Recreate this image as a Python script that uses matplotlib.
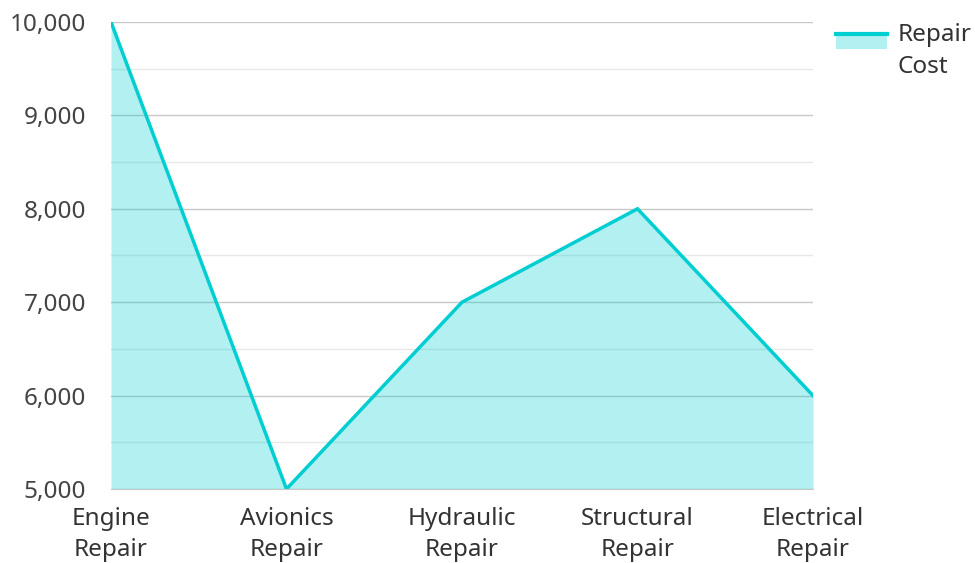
import numpy as np
import matplotlib.pyplot as plt
from matplotlib.ticker import FuncFormatter, MultipleLocator
from matplotlib.lines import Line2D
from matplotlib.patches import Rectangle
from matplotlib.legend_handler import HandlerBase

plt.rcParams['font.family'] = ['Noto Sans', 'DejaVu Sans']

categories = ['Engine\nRepair', 'Avionics\nRepair', 'Hydraulic\nRepair',
              'Structural\nRepair', 'Electrical\nRepair']
repair_cost = [10000, 5000, 7000, 8000, 6000]

line_color = '#00CED1'


class AreaHandler(HandlerBase):
    # filled box with the line along its top edge, lifted to sit beside the first text line
    def create_artists(self, legend, orig_handle, xdescent, ydescent,
                       width, height, fontsize, trans):
        lift = fontsize * 0.42
        top = height * 0.95 + lift
        bottom = height * 0.05 + lift
        box = Rectangle((-xdescent, bottom - ydescent), width, top - bottom,
                        facecolor=line_color, alpha=0.3, edgecolor='none', transform=trans)
        ln = Line2D([-xdescent, -xdescent + width], [top - ydescent, top - ydescent],
                    color=line_color, linewidth=3, transform=trans)
        return [box, ln]


fig = plt.figure(figsize=(9.75, 5.63), dpi=100)
ax = fig.add_axes([111 / 975, 1 - 489 / 563, (813 - 111) / 975, (489 - 22) / 563])

x = np.arange(len(categories))
ax.fill_between(x, repair_cost, 5000, color=line_color, alpha=0.3, linewidth=0)
ax.plot(x, repair_cost, color=line_color, linewidth=2.5, solid_joinstyle='miter')

ax.set_xlim(0, len(categories) - 1)
ax.set_ylim(5000, 10000)
ax.set_xticks(x)
ax.set_xticklabels(categories, fontsize=17.5, color='#333333', linespacing=1.4)
ax.yaxis.set_major_locator(MultipleLocator(1000))
ax.yaxis.set_minor_locator(MultipleLocator(500))
ax.yaxis.set_major_formatter(FuncFormatter(lambda v, p: f'{int(v):,}'))
ax.tick_params(axis='y', labelsize=17.5, labelcolor='#444444', length=0, pad=18, which='both')
ax.tick_params(axis='x', length=0, pad=13)

ax.grid(axis='y', which='major', color='#C8C8C8', linewidth=1)
ax.grid(axis='y', which='minor', color='#E8E8E8', linewidth=1)
ax.set_axisbelow(True)
for s in ['top', 'right', 'left']:
    ax.spines[s].set_visible(False)
ax.spines['bottom'].set_color('#C8C8C8')

leg = ax.legend([object()], ['Repair\nCost'], handler_map={object: AreaHandler()},
                loc='upper left',
                bbox_to_anchor=(836 / 975, 1 - 23 / 563), bbox_transform=fig.transFigure,
                frameon=False, fontsize=17.5, handlelength=2.1, handleheight=0.7,
                handletextpad=0.45, borderaxespad=0, borderpad=0)
for t in leg.get_texts():
    t.set_color('#333333')
    t.set_linespacing(1.45)

fig.savefig('out.png', dpi=100)
